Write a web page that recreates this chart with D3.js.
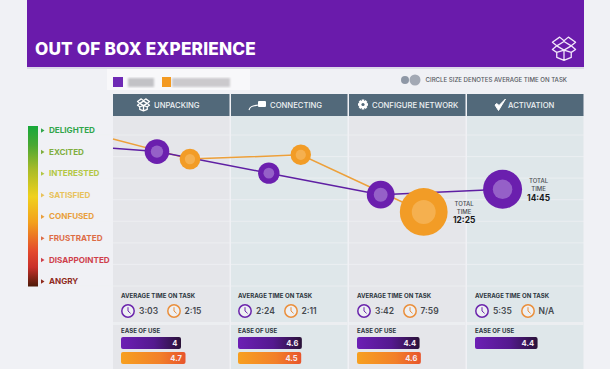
<!DOCTYPE html>
<html><head><meta charset="utf-8">
<script src="https://cdn.jsdelivr.net/npm/d3@7"></script>
<style>html,body{margin:0;padding:0;background:#f0f1f5;overflow:hidden}svg{display:block}text{font-family:Inter,"Open Sans",sans-serif}</style>
</head><body><svg id="c" width="610" height="369"></svg>
<script>
const title = "OUT OF BOX EXPERIENCE";
const legendNote = "CIRCLE SIZE DENOTES AVERAGE TIME ON TASK";
const tasks = ["UNPACKING","CONNECTING","CONFIGURE NETWORK","ACTIVATION"];
const sentiments = ["ANGRY","DISAPPOINTED","FRUSTRATED","CONFUSED","SATISFIED","INTERESTED","EXCITED","DELIGHTED"];
const sentimentColors = ["#8f2a1c","#cf3f4b","#dd6c45","#e99f3c","#e8c25a","#b3c744","#7fae3e","#30a64a"];
const purplePos = [0.373,1.322,2.271,3.305];
const purpleMood = [7,6,5,5.25];
const orangePos = [0.653,1.593,2.636];
const orangeMood = [6.65,6.85,4.2];
const purpleStartMood = 7.15, orangeStartMood = 7.58;
const purpleTimes = ["3:03","2:24","3:42","5:35"];
const orangeTimes = ["2:15","2:11","7:59","N/A"];
const purpleEase = [4,4.6,4.4,4.4];
const orangeEase = [4.7,4.5,4.6,null];
const purpleTotal = "14:45", orangeTotal = "12:25";

const secs = s => { const m = s.match(/(\d+):(\d+)/); return m ? +m[1]*60 + +m[2] : null; };
const svg = d3.select("#c");
const defs = svg.append("defs");
const grad = (id, stops, x2=1, y2=0) => {
  const g = defs.append("linearGradient").attr("id",id).attr("x1",0).attr("y1",0).attr("x2",x2).attr("y2",y2);
  stops.forEach(([o,c]) => g.append("stop").attr("offset",o).attr("stop-color",c));
};
grad("gScale",[[0,"#17a83a"],[.12,"#4aa832"],[.27,"#a8bb28"],[.44,"#f0d11c"],[.6,"#f3a01c"],[.78,"#e4492c"],[.88,"#c9302a"],[1,"#4d1a08"]],0,1);
grad("gPurple",[[0,"#6c1fb4"],[.55,"#54198f"],[1,"#2a1238"]]);
grad("gOrange",[[0,"#f7a020"],[.6,"#f2802a"],[1,"#e8552c"]]);
defs.append("filter").attr("id","blur").append("feGaussianBlur").attr("stdDeviation",1.3);

const x = d3.scaleLinear().domain([0,4]).range([113,584.5]);
const y = d3.scaleLinear().domain([1,8]).range([281,130]);
const r = d3.scaleLinear().domain([131,222,335,479]).range([10.2,13.9,19.5,23.9]);
const easeW = d3.scaleLinear().domain([4,4.7]).range([60,64.5]);

// header
svg.append("rect").attr("x",27).attr("y",0).attr("width",557).attr("height",67).attr("fill","#6a1bab");
svg.append("rect").attr("x",27).attr("y",67).attr("width",557).attr("height",2).attr("fill","#dcd8e8");
svg.append("text").attr("x",35).attr("y",55).attr("fill","#fff").attr("font-size",17.2).attr("letter-spacing",.17).attr("font-weight",800).text(title);

function boxIcon(g, s, col){
  const p = "M-8 -4L-3 -7.5L0 -5L3 -7.5L8 -4L5 -1.5L8 1L5 3V6.5L0 8.5L-5 6.5V3L-8 1L-5 -1.5ZM-5 -1.5L0 -4.5L5 -1.5L0 1.5ZM0 1.5V8.5M-5 3L0 1.5L5 3";
  g.append("path").attr("d",p).attr("transform",`scale(${s})`).attr("fill","none").attr("stroke",col).attr("stroke-width",1.3/s).attr("stroke-linejoin","round");
}
boxIcon(svg.append("g").attr("transform","translate(564,48)"),1.45,"#f3e8fb");

// blurred legend
svg.append("rect").attr("x",107).attr("y",69).attr("width",143).attr("height",21).attr("fill","#f8f8fa");
const blur = svg.append("g").attr("filter","url(#blur)");
[[128,26,"#c2c2c6"],[172,58,"#cbc9cc"]].forEach(([a,w,c]) =>
  blur.append("rect").attr("x",a).attr("y",78).attr("width",w).attr("height",9).attr("fill",c));
svg.append("rect").attr("x",113).attr("y",77).attr("width",10).attr("height",10).attr("fill","#6f2ab5");
svg.append("rect").attr("x",162).attr("y",77).attr("width",9).attr("height",10).attr("fill","#f39a22");

// circle-size note
svg.append("circle").attr("cx",405).attr("cy",80).attr("r",4).attr("fill","#8f98a6");
svg.append("circle").attr("cx",415).attr("cy",80).attr("r",5.5).attr("fill","#a3a9b4");
svg.append("text").attr("x",425.5).attr("y",82.2).attr("font-size",6.1).attr("fill","#55595f").attr("font-weight",500).text(legendNote);

// column backgrounds
const colL = i => Math.round(x(i));
const cols = svg.append("g").selectAll("g").data(tasks).join("g");
cols.append("rect").attr("x",(d,i)=>colL(i)).attr("y",115).attr("width",(d,i)=>colL(i+1)-colL(i)-1.5).attr("height",254)
  .attr("fill",(d,i)=>i%2?"#dfe7ea":"#e5e6ea");
cols.append("rect").attr("x",(d,i)=>colL(i)).attr("y",94).attr("width",(d,i)=>colL(i+1)-colL(i)-1.5).attr("height",22).attr("fill","#52697a");
cols.append("rect").attr("x",(d,i)=>colL(i)).attr("y",322).attr("width",(d,i)=>colL(i+1)-colL(i)-1.5).attr("height",3).attr("fill","#eceef1");

// header labels
const labelX = [154,270,372,508];
cols.append("text").attr("x",(d,i)=>labelX[i]).attr("y",107.6).attr("fill","#eef1f3").attr("font-size",7.7).attr("font-weight",500).text(d=>d);
boxIcon(svg.append("g").attr("transform","translate(143.5,104.5)"),.75,"#fff");
const plug = svg.append("g").attr("transform","translate(249,100)");
plug.append("rect").attr("x",9).attr("y",1).attr("width",8).attr("height",6).attr("rx",1).attr("fill","#fff");
plug.append("path").attr("d","M0 10C1 6 4 6 9 5").attr("fill","none").attr("stroke","#fff").attr("stroke-width",1.1);
const gear = svg.append("g").attr("transform","translate(363,104.5)");
gear.selectAll("rect").data(d3.range(4)).join("rect").attr("x",-1.3).attr("y",-5).attr("width",2.6).attr("height",10).attr("fill","#fff").attr("transform",d=>`rotate(${d*45})`);
gear.append("circle").attr("r",3.8).attr("fill","#fff");
gear.append("circle").attr("r",1.6).attr("fill","#52697a");
svg.append("path").attr("d","M495 105L498.5 110.5L505.5 99L499 105.5L497 103.5Z").attr("fill","#fff").attr("stroke","#fff").attr("stroke-width",1).attr("stroke-linejoin","round");

// left scale
svg.append("rect").attr("x",28).attr("y",126).attr("width",10).attr("height",160.5).attr("fill","url(#gScale)");
const gridYs = sentiments.map((d,i)=>y(i+1)+5);
svg.append("g").selectAll("line").data(gridYs).join("line").attr("x1",48).attr("x2",584).attr("y1",d=>d).attr("y2",d=>d).attr("stroke","#eff0f3").attr("stroke-width",.7);
const axis = d3.axisLeft(y).tickValues(d3.range(1,9)).tickSize(0).tickFormat(v=>sentiments[v-1]);
const ax = svg.append("g").attr("transform","translate(49,0)").call(axis);
ax.select(".domain").remove();
ax.selectAll("text").attr("x",0).attr("text-anchor","start").attr("font-size",8.1).attr("font-weight",700).attr("font-family","Inter").attr("fill",v=>sentimentColors[v-1]);
ax.selectAll(".tick").append("path").attr("d","M-8 -2.2L-4.5 0L-8 2.2Z").attr("fill",v=>sentimentColors[v-1]);

// lines
const line = d3.line().x(d=>x(d[0])).y(d=>y(d[1]));
const oLine = [[0,orangeStartMood],...orangePos.map((p,i)=>[p,orangeMood[i]])];
const pLine = [[0,purpleStartMood],...purplePos.map((p,i)=>[p,purpleMood[i]])];
svg.append("path").attr("d",line(oLine)).attr("fill","none").attr("stroke","#eda03a").attr("stroke-width",1.5);
svg.append("path").attr("d",line(pLine)).attr("fill","none").attr("stroke","#5f1fa3").attr("stroke-width",1.5);

// bubbles
function bubbles(pos,mood,times,outer,inner){
  const data = pos.map((p,i)=>({p,m:mood[i],t:secs(times[i])}));
  const g = svg.append("g").selectAll("g").data(data).join("g").attr("transform",d=>`translate(${x(d.p)},${y(d.m)})`);
  g.append("circle").attr("r",d=>r(d.t)).attr("fill",outer);
  g.append("circle").attr("r",d=>r(d.t)*.5).attr("fill",inner);
}
bubbles(purplePos,purpleMood,purpleTimes,"#6b1fae","#9560c8");
bubbles(orangePos,orangeMood,orangeTimes,"#f29c26","#f5b04f");

// total labels: stacked lines, spaced so that their boxes clear each other
function total(px,py,rad,val){
  const cx = x(px)+rad+16.5, cy = y(py);
  [["TOTAL",-8,6,500,"#4a4d52"],["TIME",-0.5,6,500,"#4a4d52"],[val,8.5,8.4,700,"#17181a"]].forEach(([s,dy,fs,w,c])=>
    svg.append("text").attr("x",cx).attr("y",cy+dy+fs*.36).attr("text-anchor","middle").attr("font-size",fs).attr("font-weight",w).attr("fill",c).text(s));
}
total(orangePos[2],orangeMood[2],r(secs(orangeTimes[2])),orangeTotal);
total(purplePos[3],purpleMood[3],r(secs(purpleTimes[3])),purpleTotal);

// footer panels
const panelX = [121,238,357,475];
function clock(cx,cy,col){
  const g = svg.append("g").attr("transform",`translate(${cx},${cy})`);
  g.append("circle").attr("r",6.2).attr("fill","#eef0f3").attr("stroke",col).attr("stroke-width",1.5);
  g.append("path").attr("d","M0 -3.8V0L2.6 2.4").attr("fill","none").attr("stroke",col).attr("stroke-width",1);
}
tasks.forEach((t,i)=>{
  const L = panelX[i];
  svg.append("text").attr("x",L).attr("y",298).attr("font-size",6.1).attr("font-weight",700).attr("fill","#2d3640").text("AVERAGE TIME ON TASK");
  clock(L+7,311,"#6b25ac"); clock(L+53,311,"#ea8f3c");
  svg.append("text").attr("x",L+18).attr("y",314).attr("font-size",8.5).attr("font-weight",600).attr("fill","#45494f").text(purpleTimes[i]);
  svg.append("text").attr("x",L+63.5).attr("y",314).attr("font-size",8.5).attr("font-weight",600).attr("fill","#45494f").text(orangeTimes[i]);
  svg.append("text").attr("x",L).attr("y",333).attr("font-size",6.1).attr("font-weight",700).attr("fill","#2d3640").text("EASE OF USE");
  [[purpleEase[i],337,"gPurple"],[orangeEase[i],352,"gOrange"]].forEach(([v,yy,g])=>{
    if(v==null) return;
    svg.append("rect").attr("x",L).attr("y",yy).attr("width",easeW(v)).attr("height",12).attr("rx",2).attr("fill",`url(#${g})`);
    svg.append("text").attr("x",L+easeW(v)-3.5).attr("y",yy+8.8).attr("text-anchor","end").attr("font-size",7.6).attr("font-weight",700).attr("fill","#f4ecf4").text(v);
  });
});
</script></body></html>
